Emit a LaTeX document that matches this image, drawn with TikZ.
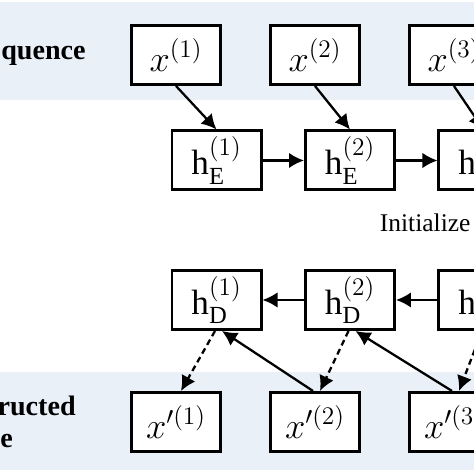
\documentclass[tikz,border=0pt]{standalone}
\usepackage{fontspec}
\setmainfont{Liberation Serif}
\usepackage{amsmath}
\usetikzlibrary{arrows.meta,positioning}
\definecolor{bandcolor}{RGB}{234,240,248}

\begin{document}
\begin{tikzpicture}[node distance=0.94cm,box/.style={draw,line width=1.7pt,fill=white,minimum width=1.78cm,minimum height=1.18cm,inner sep=0pt,font=\fontsize{20}{23}\selectfont},arr/.style={-{Latex[length=3mm,width=3.1mm]},line width=1.3pt},dasharr/.style={arr,dash pattern=on 1.2mm off 0.8mm},lbl/.style={inner sep=0pt,font=\fontsize{16}{19}\selectfont\bfseries}]
\clip (0,0) rectangle (9.48,-9.48);
\fill[bandcolor] (0,-0.04) rectangle (9.48,-2.00); \fill[bandcolor] (0,-7.44) rectangle (9.48,-9.40);
\node[lbl,anchor=base east](inlbl) at (1.72,-1.20){quence}; \node[lbl,anchor=base east](outlbla) at (1.52,-8.30){ructed}; \node[lbl,anchor=base west](outlblb) at (0,-8.94){e};
\node[box](x1) at (3.52,-1.10){$x^{(1)}$}; \node[box,right=of x1](x2){$x^{(2)}$}; \node[box,right=of x2](x3){$x^{(3)}$};
\node[box,below=0.87cm of x1,xshift=0.81cm](hE1){$\mathrm{h}_{\mathrm{E}}^{(1)}$}; \node[box,right=0.83cm of hE1](hE2){$\mathrm{h}_{\mathrm{E}}^{(2)}$}; \node[box,right=0.83cm of hE2](hE3){$\mathrm{h}_{\mathrm{E}}^{(3)}$};
\node[box,below=1.55cm of hE1](hD1){$\mathrm{h}_{\mathrm{D}}^{(1)}$}; \node[box,right=0.83cm of hD1](hD2){$\mathrm{h}_{\mathrm{D}}^{(2)}$}; \node[box,right=0.83cm of hD2](hD3){$\mathrm{h}_{\mathrm{D}}^{(3)}$};
\node[box,below=1.20cm of hD1,xshift=-0.81cm](y1){$x'^{(1)}$}; \node[box,right=of y1](y2){$x'^{(2)}$}; \node[box,right=of y2](y3){$x'^{(3)}$};
\draw[arr](x1.south)--(hE1.north); \draw[arr](x2.south)--(hE2.north); \draw[arr](x3.south)--(hE3.north);
\draw[arr](hE1)--(hE2); \draw[arr](hE2)--(hE3);
\draw[arr](hE3)--(hD3) node[pos=0.4,left=0.12cm,font=\fontsize{14.5}{17}\selectfont](init){Initialize};
\draw[arr](hD3)--(hD2); \draw[arr](hD2)--(hD1);
\draw[dasharr]([xshift=-0.03cm]hD1.south)--([xshift=0.1cm]y1.north); \draw[dasharr]([xshift=-0.03cm]hD2.south)--([xshift=0.1cm]y2.north); \draw[dasharr]([xshift=-0.03cm]hD3.south)--([xshift=0.1cm]y3.north);
\draw[arr]([xshift=-0.04cm]y2.north)--([xshift=0.11cm]hD1.south); \draw[arr]([xshift=-0.04cm]y3.north)--([xshift=0.11cm]hD2.south);
\end{tikzpicture}
\end{document}
